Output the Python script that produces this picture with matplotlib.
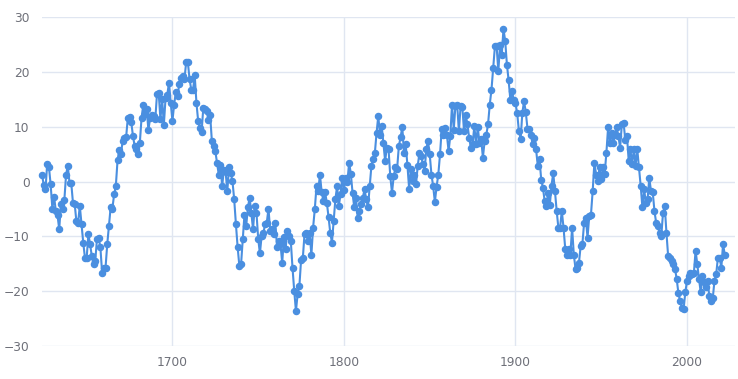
import matplotlib
matplotlib.use("Agg")
import matplotlib.pyplot as plt
import numpy as np

# yearly values
start_year = 1624
seg1 = [1.2, -0.6, -1.4, 3.3, 2.7, -0.5, -4.9, -2.7, -5.3, -6.1,
        -8.7, -4.0, -4.9, -3.3, 1.3, 2.9, -0.2, -0.2, -3.8, -4.0,
        -7.2, -7.5, -4.4, -7.8, -11.1, -13.9, -13.9, -9.6, -11.4, -13.6,
        -15.1, -14.5, -10.5, -10.2, -12.0, -16.6, -15.7, -15.7, -11.4, -8.1,
        -4.6, -4.9, -2.3, -0.8, 3.9, 5.8, 5.1, 7.5, 7.9, 8.1,
        11.7, 11.8, 10.9, 8.3, 6.5, 5.9, 5.0, 7.1, 11.7, 14.0,
        12.3, 13.3, 9.4, 11.7, 12.1, 12.0, 11.4, 16.0, 16.2, 11.4]
seg2 = [15.1, 10.4, 15.3, 15.9, 18.1, 14.4, 11.1, 14.1, 16.4,
        15.7, 17.8, 19.0, 19.3, 18.7, 21.8, 21.8, 18.7, 16.8,
        16.8, 19.4, 14.4, 11.1, 9.8, 9.1, 13.5, 13.3, 12.9, 11.2,
        12.1, 7.4, 6.5, 5.6, 3.5, 1.3, 3.0, -0.8, 2.2, 1.8,
        -1.7, 2.6, 1.6, 0.1, -3.2, -7.7, -11.9, -15.3, -15.1, -10.5,
        -6.0, -8.1, -4.7, -2.9, -5.7, -8.7, -4.4, -5.7, -10.4, -13.1,
        -9.9, -9.4, -7.8, -7.5, -4.9, -9.0, -8.7, -9.6, -7.5, -12.0, -10.8]
seg3 = [-11.4, -14.8, -10.1, -12.2, -9.0, -9.9, -10.8, -15.7, -19.9, -23.6,
        -20.5, -19.1, -14.3, -14.0, -9.6, -9.4, -10.8, -9.3, -13.4,
        -8.4, -5.0, -0.8, -1.7, 1.3, -1.9, -3.5, -1.9, -3.8, -6.4,
        -9.3, -11.1, -7.2, -3.2, -0.8, -4.4, -2.3, 0.7, -1.5, 0.7,
        -0.1, 3.5, 1.5, -2.0, -4.7, -2.9, -6.6, -5.3, -4.1, -2.9,
        -1.4, -3.2, -4.7, -0.8, 2.9, 4.1, 5.2, 8.9, 12.0,
        8.6, 10.2, 7.1, 3.8, 6.2, 5.9, 1.0, -2.0, 1.0, 2.6]
seg4 = [2.4, 6.5, 8.1, 10.0, 5.2, 6.8, 3.0, -1.3, 2.4,
        0.1, 1.2, -0.5, 2.9, 5.2, 4.7, 3.2, 1.9, 6.0, 7.4,
        5.0, 1.3, -0.8, -3.7, -0.9, 1.3, 5.0, 9.7, 8.6,
        9.8, 8.6, 5.6, 8.4, 14.1, 9.5, 13.9, 14.1, 9.2, 13.8,
        13.7, 9.2, 12.1, 10.5, 8.0, 6.2, 6.8, 10.2, 6.8, 10.0,
        7.1, 7.8, 4.4, 7.4, 8.6, 10.5, 14.1, 16.8, 20.8, 24.7,
        24.7, 20.2, 25.0, 23.2, 27.9, 25.7, 21.4, 18.5, 15.0, 16.5,
        14.9, 14.3, 12.5]
seg5 = [9.2, 7.8, 12.6, 14.7, 12.7, 9.7, 9.7, 8.6, 6.8, 8.0,
        5.9, 2.9, 4.1, 0.4, -1.1, -3.5, -4.4, -2.0, -4.3, -0.7,
        1.6, -1.7, -5.3, -8.4, -8.4, -5.3, -8.4, -12.2, -13.4, -12.2,
        -13.3, -8.4, -13.3, -15.9, -15.7, -14.8, -11.7, -11.4,
        -7.5, -6.7, -10.2, -6.3, -6.0, -1.7, 3.5, 1.3, 0.1, 2.6,
        0.5, 2.6, 1.5, 5.3, 10.0, 7.1, 8.9, 7.0, 8.6, 10.0,
        8.3, 6.2, 10.5, 10.8, 7.7, 8.3, 3.8, 5.9, 3.2, 6.0,
        2.9, 5.9]
seg6 = [2.6, -0.8, -4.7, -1.4, -3.8, -3.2, 0.7, -1.7, -1.9,
        -5.3, -7.5, -8.1, -9.4, -9.9, -5.7, -4.4, -9.3, -13.6, -13.9,
        -14.5, -15.1, -15.9, -17.8, -20.4, -21.8, -23.0, -23.3, -20.2, -18.1,
        -17.2, -16.6, -16.9, -16.6, -12.6, -15.1, -17.8, -20.2, -17.2, -18.4,
        -19.3, -18.1, -20.9, -21.8, -21.3, -18.1, -16.9, -13.9, -13.9, -15.7,
        -11.4, -13.3]

values = seg1 + seg2 + seg3 + seg4 + seg5 + seg6
years = np.arange(start_year, start_year + len(values))

y_ticks = [-30, -20, -10, 0, 10, 20, 30]
x_ticks = [1700, 1800, 1900, 2000]

grid_col = "#e0e6f1"
text_col = "#6e7079"
line_col = "#4a8fe0"

fig = plt.figure(figsize=(7.38, 3.79), dpi=100)
ax = fig.add_axes([0.057, 0.087, 0.939, 0.867])

ax.plot(years, values, color=line_col, lw=1.5, marker="o", ms=4.4,
        mec=line_col, mfc=line_col, clip_on=False, zorder=3)

ax.set_xlim(1624, 2028)
ax.set_ylim(-30, 30)
ax.set_yticks(y_ticks)
ax.set_xticks(x_ticks)
ax.grid(True, color=grid_col, lw=1)
ax.set_axisbelow(True)
for s in ax.spines.values():
    s.set_visible(False)
ax.tick_params(length=0, colors=text_col, labelsize=8.8)
ax.tick_params(axis="x", pad=7)
ax.tick_params(axis="y", pad=9)

fig.savefig("out.png", dpi=100)
